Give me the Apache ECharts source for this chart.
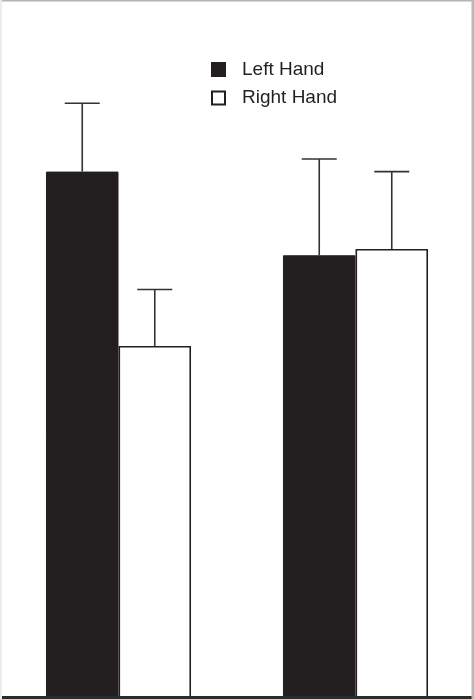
<!DOCTYPE html>
<html>
<head>
<meta charset="utf-8">
<script src="https://cdn.jsdelivr.net/npm/echarts@6/dist/echarts.min.js"></script>
<style>
html,body{margin:0;padding:0;background:#fff;}
#c{width:474px;height:699px;}
</style>
</head>
<body>
<div id="c"></div>
<script>
var categories = ['Group 1', 'Group 2'];
var leftHand = [75.4, 63.4];
var rightHand = [50.4, 64.3];
var leftHandErr = [85.2, 77.2];
var rightHandErr = [58.5, 75.4];
var seriesNames = ['Left Hand', 'Right Hand'];

var BAR_FRAC = 0.306;
var ink = '#231f20';

function errSeries(vals, errs, side) {
  return {
    type: 'custom',
    silent: true,
    z: 1,
    data: vals.map(function (v, i) { return [i, v, errs[i]]; }),
    renderItem: function (params, api) {
      var i = api.value(0);
      var band = api.size([1, 0])[0];
      var off = side * band * BAR_FRAC / 2;
      var p0 = api.coord([i, api.value(1)]);
      var p1 = api.coord([i, api.value(2)]);
      var x = p0[0] + off;
      var cap = 17.5;
      var st = { stroke: '#333', lineWidth: 1.6 };
      return {
        type: 'group',
        children: [
          { type: 'line', shape: { x1: x, y1: p0[1], x2: x, y2: p1[1] }, style: st },
          { type: 'line', shape: { x1: x - cap, y1: p1[1], x2: x + cap, y2: p1[1] }, style: st }
        ]
      };
    }
  };
}

var chart = echarts.init(document.getElementById('c'), null, { renderer: 'canvas' });
chart.setOption({
  animation: false,
  backgroundColor: '#fff',
  grid: { left: 0, right: 0, top: 0, bottom: 1.5, containLabel: false },
  legend: {
    orient: 'vertical',
    left: 211,
    top: 60,
    padding: 0,
    itemWidth: 13,
    itemHeight: 13,
    itemGap: 9.5,
    icon: 'rect',
    data: seriesNames,
    textStyle: {
      fontFamily: 'Liberation Sans, Arial, sans-serif',
      fontSize: 19,
      lineHeight: 19,
      color: ink,
      padding: [0, 0, 0, 12]
    }
  },
  xAxis: {
    type: 'category',
    data: categories,
    z: 10,
    axisLine: { show: true, lineStyle: { color: '#2a2a2a', width: 3 } },
    axisTick: { show: false },
    axisLabel: { show: false },
    splitLine: { show: false }
  },
  yAxis: {
    type: 'value',
    min: 0,
    max: 100,
    show: false,
    splitLine: { show: false }
  },
  series: [
    {
      name: seriesNames[0],
      type: 'bar',
      data: leftHand,
      barWidth: (BAR_FRAC * 100) + '%',
      barGap: '0%',
      z: 2,
      itemStyle: { color: ink, borderColor: ink, borderWidth: 1 }
    },
    {
      name: seriesNames[1],
      type: 'bar',
      data: rightHand,
      barWidth: (BAR_FRAC * 100) + '%',
      barGap: '0%',
      z: 2,
      itemStyle: { color: '#fff', borderColor: ink, borderWidth: 1.6 }
    },
    errSeries(leftHand, leftHandErr, -1),
    errSeries(rightHand, rightHandErr, 1)
  ],
  graphic: [
    { type: 'rect', z: 100, shape: { x: 0, y: 0, width: 474, height: 1.5 }, style: { fill: '#b4b4b4' } },
    { type: 'rect', z: 100, shape: { x: 471.5, y: 0, width: 2.5, height: 699 }, style: { fill: '#b8b8b8' } },
    { type: 'rect', z: 100, shape: { x: 0, y: 0, width: 2, height: 699 }, style: { fill: '#ececec' } }
  ]
});
</script>
</body>
</html>
